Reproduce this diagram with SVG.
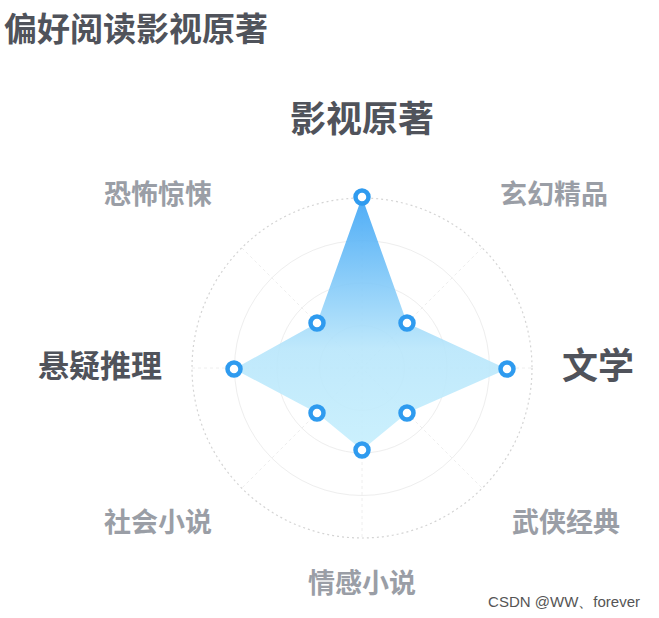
<svg xmlns="http://www.w3.org/2000/svg" width="659" height="618" viewBox="0 0 659 618">
<style>
.t{font-family:"Noto Sans CJK SC",sans-serif;font-weight:bold}
.g{fill:#9a9ea6;font-size:27px}
.d{fill:#50535b}
.r{fill:none;stroke:#eeeeee;stroke-width:1}
.pt{fill:#fff;stroke:#2f9bef;stroke-width:4.5}
</style>
<defs><linearGradient id="f" x1="0" y1="0" x2="0" y2="1"><stop offset="0" stop-color="#3aa3f5"/><stop offset="0.6" stop-color="#b8e6fb"/><stop offset="1" stop-color="#c6effd"/></linearGradient></defs>
<rect width="659" height="618" fill="#fff"/>
<text class="t" x="4" y="41" font-size="33" fill="#50535b">偏好阅读影视原著</text>
<g id="grid">
<circle class="r" cx="362" cy="368" r="42.5"/>
<circle class="r" cx="362" cy="368" r="85"/>
<circle class="r" cx="362" cy="368" r="127.5"/>
<circle cx="362" cy="368" r="170" fill="none" stroke="#d4d4d4" stroke-width="1.2" stroke-dasharray="2 3"/>
<path d="M362 198V538M192 368H532M241.8 247.8L482.2 488.2M482.2 247.8L241.8 488.2" stroke="#eeeeee" stroke-width="1" stroke-dasharray="3 3"/>
</g>
<g id="connectors">
<polygon points="362,197 407,323 507,369 407,413 362,450 317,413 234,369 317,323" fill="url(#f)" opacity="0.9"/>
</g>
<g id="points">
<circle class="pt" cx="362" cy="197" r="6.5"/>
<circle class="pt" cx="407" cy="323" r="6.5"/>
<circle class="pt" cx="507" cy="369" r="6.5"/>
<circle class="pt" cx="407" cy="413" r="6.5"/>
<circle class="pt" cx="362" cy="450" r="6.5"/>
<circle class="pt" cx="317" cy="413" r="6.5"/>
<circle class="pt" cx="234" cy="369" r="6.5"/>
<circle class="pt" cx="317" cy="323" r="6.5"/>
</g>
<g id="labels">
<text class="t d" x="362" y="132" text-anchor="middle" font-size="36">影视原著</text>
<text class="t g" x="500" y="204">玄幻精品</text>
<text class="t d" x="562" y="369" dominant-baseline="middle" font-size="36">文学</text>
<text class="t g" x="512" y="532">武侠经典</text>
<text class="t g" x="362" y="593" text-anchor="middle">情感小说</text>
<text class="t g" x="212" y="532" text-anchor="end">社会小说</text>
<text class="t d" x="162" y="369" text-anchor="end" dominant-baseline="middle" font-size="31">悬疑推理</text>
<text class="t g" x="212" y="204" text-anchor="end">恐怖惊悚</text>
</g>
<text x="640" y="607" text-anchor="end" font-family="Liberation Sans,sans-serif" font-size="15" fill="#555">CSDN @WW、forever</text>
</svg>
